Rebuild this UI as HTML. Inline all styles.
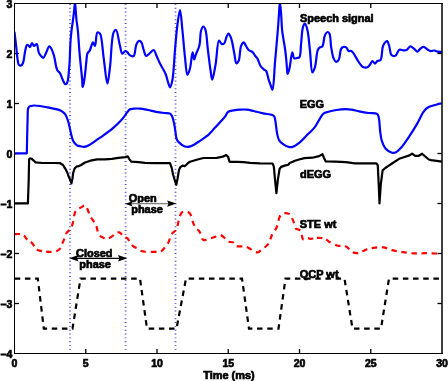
<!DOCTYPE html>
<html><head><meta charset="utf-8"><style>
html,body{margin:0;padding:0;background:#fff;}
body{width:448px;height:381px;overflow:hidden;}
svg{display:block;}
</style></head><body>
<svg width="448" height="381" viewBox="0 0 448 381">
<rect width="448" height="381" fill="#fff"/>
<line x1="85.75" y1="353.5" x2="85.75" y2="349.0" stroke="#000" stroke-width="1.3"/>
<line x1="85.75" y1="3.5" x2="85.75" y2="8.0" stroke="#000" stroke-width="1.3"/>
<line x1="157.00" y1="353.5" x2="157.00" y2="349.0" stroke="#000" stroke-width="1.3"/>
<line x1="157.00" y1="3.5" x2="157.00" y2="8.0" stroke="#000" stroke-width="1.3"/>
<line x1="228.25" y1="353.5" x2="228.25" y2="349.0" stroke="#000" stroke-width="1.3"/>
<line x1="228.25" y1="3.5" x2="228.25" y2="8.0" stroke="#000" stroke-width="1.3"/>
<line x1="299.50" y1="353.5" x2="299.50" y2="349.0" stroke="#000" stroke-width="1.3"/>
<line x1="299.50" y1="3.5" x2="299.50" y2="8.0" stroke="#000" stroke-width="1.3"/>
<line x1="370.75" y1="353.5" x2="370.75" y2="349.0" stroke="#000" stroke-width="1.3"/>
<line x1="370.75" y1="3.5" x2="370.75" y2="8.0" stroke="#000" stroke-width="1.3"/>
<line x1="14.5" y1="303.50" x2="19.0" y2="303.50" stroke="#000" stroke-width="1.3"/>
<line x1="442.0" y1="303.50" x2="437.5" y2="303.50" stroke="#000" stroke-width="1.3"/>
<line x1="14.5" y1="253.50" x2="19.0" y2="253.50" stroke="#000" stroke-width="1.3"/>
<line x1="442.0" y1="253.50" x2="437.5" y2="253.50" stroke="#000" stroke-width="1.3"/>
<line x1="14.5" y1="203.50" x2="19.0" y2="203.50" stroke="#000" stroke-width="1.3"/>
<line x1="442.0" y1="203.50" x2="437.5" y2="203.50" stroke="#000" stroke-width="1.3"/>
<line x1="14.5" y1="153.50" x2="19.0" y2="153.50" stroke="#000" stroke-width="1.3"/>
<line x1="442.0" y1="153.50" x2="437.5" y2="153.50" stroke="#000" stroke-width="1.3"/>
<line x1="14.5" y1="103.50" x2="19.0" y2="103.50" stroke="#000" stroke-width="1.3"/>
<line x1="442.0" y1="103.50" x2="437.5" y2="103.50" stroke="#000" stroke-width="1.3"/>
<line x1="14.5" y1="53.50" x2="19.0" y2="53.50" stroke="#000" stroke-width="1.3"/>
<line x1="442.0" y1="53.50" x2="437.5" y2="53.50" stroke="#000" stroke-width="1.3"/>
<defs><clipPath id="ax"><rect x="14.5" y="3.5" width="427.50" height="350.00"/></clipPath></defs>
<g clip-path="url(#ax)">
<line x1="70.0" y1="3.9" x2="70.0" y2="351.5" stroke="#2a2ad0" stroke-width="1.8" stroke-dasharray="0.9 2.934" opacity="0.85"/>
<line x1="125.6" y1="3.9" x2="125.6" y2="351.5" stroke="#2a2ad0" stroke-width="1.8" stroke-dasharray="0.9 2.934" opacity="0.85"/>
<line x1="175.5" y1="3.9" x2="175.5" y2="351.5" stroke="#2a2ad0" stroke-width="1.8" stroke-dasharray="0.9 2.934" opacity="0.85"/>
<path d="M14.50,32.00C15.00,36.33 15.46,40.38 16.00,45.00C16.62,50.29 17.26,58.67 18.00,62.00C18.32,63.43 18.39,64.44 19.00,65.00C19.49,65.45 20.39,65.71 21.00,65.50C21.76,65.24 22.44,64.23 23.00,63.00C24.04,60.71 24.25,55.24 25.00,52.00C25.61,49.39 25.99,45.45 27.00,45.00C27.56,44.75 28.47,45.62 29.00,46.00C29.42,46.30 29.65,47.06 30.00,47.00C30.62,46.90 31.29,43.04 32.00,43.00C32.63,42.96 33.20,45.86 34.00,46.00C34.77,46.13 35.98,43.74 36.70,44.00C37.87,44.42 37.87,50.44 38.80,52.60C39.43,54.06 40.16,55.10 41.00,56.00C41.72,56.77 42.67,57.96 43.40,57.80C44.39,57.58 45.10,54.74 46.00,53.00C47.05,50.96 48.26,46.47 49.30,46.30C49.89,46.20 50.44,47.15 51.00,48.00C52.03,49.58 53.09,52.70 54.00,55.70C55.22,59.70 55.69,67.08 57.20,70.00C58.01,71.56 59.21,71.84 60.00,73.10C60.94,74.61 61.46,76.90 62.20,78.60C62.86,80.11 63.53,81.81 64.20,82.80C64.63,83.43 65.03,84.12 65.50,84.20C65.91,84.27 66.44,83.93 66.80,83.50C67.36,82.82 67.59,81.49 67.90,80.00C68.42,77.54 68.70,73.34 69.00,70.00C69.30,66.67 69.52,63.33 69.70,60.00C69.88,56.67 69.95,53.33 70.10,50.00C70.25,46.67 70.35,43.33 70.60,40.00C70.85,36.66 71.20,33.33 71.60,30.00C72.00,26.66 72.57,23.34 73.00,20.00C73.43,16.67 73.85,13.10 74.20,10.00C74.50,7.32 74.75,2.50 75.00,2.50C75.25,2.50 75.47,7.32 75.70,10.00C75.97,13.09 76.15,16.67 76.50,20.00C76.85,23.34 77.45,26.66 77.80,30.00C78.15,33.33 78.35,36.67 78.60,40.00C78.85,43.33 79.03,46.67 79.30,50.00C79.57,53.33 79.88,56.67 80.20,60.00C80.52,63.33 80.87,66.67 81.20,70.00C81.53,73.33 81.96,76.96 82.20,80.00C82.40,82.54 82.25,86.95 82.60,87.00C82.84,87.03 83.28,85.35 83.60,84.00C84.22,81.35 84.83,75.92 85.30,72.00C85.75,68.26 86.00,64.34 86.40,61.00C86.74,58.20 86.70,55.13 87.50,53.30C88.04,52.07 88.98,51.81 89.70,50.60C90.84,48.67 91.97,42.46 93.00,42.40C93.70,42.36 94.41,46.10 95.00,46.00C96.07,45.82 95.85,33.18 97.40,32.40C98.11,32.04 99.25,32.67 100.00,33.70C102.16,36.66 102.40,49.30 103.60,57.40C104.86,65.91 106.23,83.59 107.40,83.60C108.33,83.61 109.15,73.55 110.00,67.00C111.23,57.57 111.36,37.10 113.60,32.40C114.30,30.93 115.27,29.80 116.00,30.00C117.57,30.43 118.63,40.70 119.80,45.00C120.69,48.27 121.07,53.24 122.30,53.60C123.12,53.84 124.35,51.07 125.30,51.00C126.07,50.94 126.79,51.78 127.50,52.40C128.37,53.16 128.95,54.80 130.00,55.40C131.03,55.99 132.74,56.65 133.70,56.00C135.36,54.88 135.09,47.69 136.20,45.00C136.92,43.26 137.71,41.32 138.70,41.00C139.45,40.76 140.50,41.24 141.20,42.00C142.44,43.34 142.81,47.54 143.70,50.00C144.49,52.16 145.03,55.70 146.20,56.00C147.21,56.26 148.75,54.00 150.00,53.00C151.24,52.00 152.69,49.78 153.70,50.00C154.79,50.24 155.30,53.10 156.20,55.00C157.36,57.47 158.68,60.97 160.00,63.60C161.16,65.92 162.55,67.98 163.60,70.00C164.51,71.75 165.30,73.16 166.00,75.00C166.80,77.11 167.29,79.84 168.00,82.00C168.63,83.90 169.32,87.31 170.00,87.30C170.79,87.28 171.72,83.31 172.40,80.00C173.74,73.44 174.13,59.54 175.00,50.00C175.80,41.29 176.42,32.26 177.40,25.00C178.16,19.35 179.21,9.98 180.00,10.00C180.91,10.02 181.63,22.80 182.40,30.00C183.30,38.41 184.06,49.28 185.00,57.40C185.75,63.92 186.24,74.86 187.40,75.00C188.13,75.09 189.25,71.20 190.00,68.50C191.14,64.38 191.77,52.43 192.60,52.40C193.15,52.38 193.59,59.47 194.20,59.50C194.74,59.53 195.27,56.09 196.00,54.10C196.93,51.57 198.57,48.90 199.40,45.60C200.47,41.35 200.04,33.85 201.10,30.50C201.68,28.66 202.55,26.53 203.30,26.50C203.98,26.47 204.80,28.01 205.40,29.60C206.80,33.32 207.05,43.15 207.90,49.90C208.75,56.62 209.66,64.51 210.50,70.00C211.08,73.82 211.49,79.68 212.20,79.70C213.10,79.72 214.56,70.09 215.60,64.40C216.88,57.34 217.22,40.97 219.00,40.50C219.75,40.30 220.61,43.51 221.60,43.90C222.36,44.20 223.40,44.08 224.10,43.50C225.26,42.55 225.67,38.77 226.50,37.00C227.12,35.68 227.71,33.71 228.40,33.70C229.19,33.69 230.22,35.95 231.00,37.90C232.43,41.47 233.43,49.46 234.40,54.10C235.13,57.60 235.25,62.98 236.30,63.30C236.92,63.49 237.95,62.26 238.60,61.00C240.03,58.24 239.79,48.71 241.20,45.60C241.92,44.00 243.00,42.35 243.80,42.40C244.61,42.45 245.23,44.77 246.00,46.00C246.82,47.30 247.50,49.01 248.60,50.00C249.63,50.93 251.22,50.98 252.30,51.90C253.49,52.92 254.36,54.80 255.30,56.00C256.07,56.98 256.80,57.44 257.50,58.60C258.57,60.38 259.27,64.11 260.50,66.00C261.43,67.43 262.65,68.42 263.70,69.30C264.55,70.01 265.50,70.02 266.20,71.00C267.42,72.70 267.89,77.29 268.70,79.80C269.32,81.71 269.87,83.14 270.50,84.80C271.14,86.47 271.92,89.88 272.50,89.80C273.80,89.61 274.14,71.97 275.00,62.30C275.96,51.50 277.32,36.72 278.00,28.00C278.42,22.64 278.58,19.33 278.90,15.00C279.22,10.67 279.52,2.00 279.90,2.00C280.28,2.00 280.84,10.51 281.20,15.00C281.59,19.82 281.63,25.51 282.10,30.00C282.49,33.68 283.08,36.67 283.60,40.00C284.12,43.33 284.75,46.66 285.20,50.00C285.65,53.33 285.98,56.66 286.30,60.00C286.62,63.33 286.87,67.42 287.10,70.00C287.25,71.63 287.19,73.96 287.50,74.00C287.88,74.05 288.79,70.91 289.40,68.60C290.43,64.68 291.30,52.47 292.30,52.40C292.92,52.36 293.12,57.73 294.20,58.40C294.91,58.84 296.03,58.20 296.90,58.00C297.76,57.80 298.74,57.99 299.40,57.20C300.90,55.40 300.54,48.33 301.10,43.60C301.71,38.44 301.83,30.83 302.90,27.40C303.44,25.66 304.24,23.66 304.90,23.70C305.74,23.75 306.70,27.25 307.40,30.00C308.62,34.74 309.09,43.15 309.90,50.00C310.76,57.23 311.01,72.05 312.40,72.30C313.09,72.42 314.17,69.54 314.90,67.30C316.19,63.33 316.43,53.14 317.80,50.00C318.39,48.64 319.00,47.99 319.80,47.40C320.52,46.87 321.60,47.29 322.30,46.50C323.78,44.84 323.75,37.50 325.00,35.00C325.72,33.56 326.68,32.07 327.50,32.00C328.17,31.94 328.96,32.70 329.50,33.70C330.74,35.99 330.45,43.08 331.20,47.40C331.88,51.34 332.51,56.08 333.70,58.60C334.41,60.10 335.31,61.68 336.20,61.80C336.99,61.90 338.00,60.99 338.70,59.90C340.04,57.81 339.84,50.61 341.20,48.60C341.90,47.57 342.83,47.08 343.70,46.90C344.50,46.74 345.45,46.91 346.20,47.40C347.18,48.04 347.71,50.48 348.70,51.00C349.45,51.39 350.43,50.67 351.20,51.00C352.12,51.39 352.85,52.48 353.70,53.60C354.91,55.19 356.13,57.90 357.40,59.90C358.60,61.79 359.89,64.00 361.10,65.30C361.95,66.21 362.61,66.95 363.60,67.30C364.68,67.68 366.34,67.74 367.40,67.30C368.42,66.88 369.11,65.77 369.90,64.80C370.79,63.70 371.51,61.08 372.40,61.00C373.19,60.93 374.07,63.60 374.90,63.60C375.73,63.60 376.44,61.60 377.40,61.00C378.32,60.43 379.67,60.95 380.50,60.00C382.23,58.02 381.78,49.17 383.00,46.00C383.70,44.17 384.63,42.81 385.50,42.00C386.05,41.49 386.70,40.92 387.20,41.10C388.04,41.40 388.57,44.10 389.20,46.00C390.03,48.52 390.00,53.57 391.50,55.00C392.48,55.94 394.24,56.28 395.40,55.80C396.95,55.15 397.73,50.53 399.30,49.80C400.48,49.25 402.05,50.26 403.30,50.30C404.40,50.33 405.39,50.54 406.40,50.10C407.73,49.52 408.94,46.54 410.30,46.40C411.55,46.27 413.01,47.91 414.20,48.80C415.34,49.65 416.27,51.62 417.30,51.60C418.37,51.58 419.38,49.30 420.50,48.50C421.49,47.79 422.53,46.84 423.60,46.90C424.85,46.97 426.25,48.77 427.50,49.50C428.57,50.13 429.48,50.92 430.60,51.10C431.80,51.30 433.29,50.37 434.50,50.50C435.61,50.62 436.45,51.46 437.60,51.70C438.92,51.98 440.53,51.83 442.00,51.90" fill="none" stroke="#0000ff" stroke-width="2.2" stroke-linejoin="round"/>
<path d="M14.50,153.30L26.80,153.30C27.07,142.20 27.29,128.24 27.60,120.00C27.78,115.14 27.46,110.58 28.20,108.40C28.53,107.43 29.01,106.90 29.50,106.50C29.87,106.20 30.18,106.14 30.70,106.00C31.58,105.76 32.76,105.49 34.40,105.50C37.66,105.52 44.36,106.75 49.00,107.70C53.33,108.58 59.05,109.76 61.40,110.90C62.47,111.42 62.84,111.88 63.50,112.50C64.21,113.17 64.87,113.76 65.50,114.80C66.48,116.39 67.39,118.93 68.20,121.50C69.24,124.78 70.02,129.58 70.90,133.00C71.61,135.77 72.14,138.59 73.00,140.50C73.59,141.81 74.23,142.76 75.00,143.60C75.68,144.35 76.42,144.95 77.30,145.40C78.24,145.88 79.40,146.05 80.50,146.30C81.63,146.56 82.72,147.01 84.00,146.90C85.62,146.76 87.57,145.94 89.40,145.00C91.59,143.87 93.76,141.92 96.10,140.30C98.64,138.53 101.45,136.70 104.10,134.80C106.79,132.87 109.59,130.86 112.10,128.80C114.48,126.85 116.74,124.87 118.80,122.80C120.76,120.83 122.76,118.56 124.20,116.70C125.31,115.27 125.97,113.94 126.90,112.70C127.77,111.55 128.47,110.17 129.60,109.50C130.71,108.84 132.10,108.86 133.60,108.70C135.48,108.50 137.76,108.42 140.00,108.60C142.53,108.80 145.33,109.47 148.00,110.00C150.70,110.54 153.40,111.30 156.10,111.80C158.77,112.30 161.62,112.69 164.10,113.00C166.24,113.27 168.73,112.82 170.10,113.60C171.12,114.18 171.52,115.12 172.10,116.30C172.96,118.05 173.55,120.90 174.10,123.40C174.70,126.14 175.03,129.32 175.50,132.10C175.93,134.67 175.94,137.59 176.80,139.50C177.45,140.95 178.39,141.85 179.50,142.90C180.78,144.11 182.62,145.55 184.20,146.20C185.53,146.75 186.79,147.03 188.20,146.90C189.88,146.75 191.77,145.81 193.60,144.90C195.70,143.85 197.85,142.22 200.00,140.80C202.22,139.33 204.46,138.08 206.70,136.20C209.35,133.98 212.17,130.75 214.70,128.10C217.06,125.63 219.47,122.98 221.40,120.80C222.92,119.08 224.25,117.67 225.40,116.10C226.45,114.67 226.80,112.75 228.10,111.80C229.46,110.80 231.59,110.76 233.50,110.40C235.60,110.00 237.96,109.73 240.20,109.60C242.43,109.47 244.68,109.37 246.90,109.60C249.15,109.83 251.18,110.44 253.60,111.00C256.48,111.67 259.85,112.73 263.00,113.40C266.12,114.06 270.49,114.11 272.40,115.00C273.40,115.47 273.88,115.80 274.40,116.70C275.28,118.22 275.37,121.48 275.80,124.10C276.28,127.04 276.48,130.65 277.10,133.50C277.63,135.94 278.00,138.36 279.10,140.20C280.09,141.85 281.57,143.09 283.10,144.20C284.69,145.34 286.79,146.50 288.50,146.90C289.89,147.23 291.06,147.30 292.50,146.90C294.52,146.34 297.06,144.56 299.20,142.90C301.55,141.07 303.51,138.63 305.90,136.20C308.71,133.34 312.70,129.80 315.00,126.80C316.77,124.49 317.57,122.31 319.00,120.10C320.46,117.84 321.88,114.76 323.70,113.40C325.11,112.34 326.61,112.30 328.40,111.80C330.70,111.15 333.61,110.45 336.40,110.00C339.39,109.52 343.10,109.10 345.80,109.10C347.85,109.10 349.23,109.29 351.20,109.60C353.62,109.98 356.42,110.85 359.20,111.40C362.20,111.99 365.54,112.58 368.60,113.00C371.50,113.40 375.49,112.75 377.10,113.90C378.17,114.66 378.26,115.73 378.70,117.30C379.56,120.37 379.62,127.26 380.20,131.50C380.68,134.96 380.85,137.97 381.80,140.90C382.71,143.72 383.89,146.78 385.70,148.80C387.37,150.66 390.06,152.37 392.00,152.80C393.42,153.12 394.66,152.92 396.00,152.30C397.82,151.45 399.61,149.34 401.50,147.20C404.04,144.33 406.84,140.04 409.40,136.20C412.08,132.19 414.80,127.77 417.20,123.60C419.48,119.64 421.38,114.65 423.50,111.80C424.93,109.88 426.02,108.61 427.80,107.50C429.80,106.25 432.71,105.73 435.10,105.00C437.37,104.31 439.57,103.80 441.80,103.20" fill="none" stroke="#0000ff" stroke-width="2.2" stroke-linejoin="round"/>
<polyline points="14.5,203.4 27.9,203.4 28.7,180.0 29.1,159.4 29.9,158.3 31.5,158.7 33.4,160.3 35.6,162.4 42.3,163.0 53.5,163.0 60.2,163.2 63.0,165.0 65.2,168.6 67.3,172.5 68.8,176.8 70.2,179.7 71.4,183.4 72.4,179.0 73.1,173.2 74.6,168.6 76.7,166.4 78.9,166.1 81.1,165.0 85.0,162.5 90.4,160.7 97.1,159.4 105.1,159.4 111.8,158.8 118.5,157.8 125.2,157.1 127.7,156.4 129.2,158.9 131.2,161.7 138.6,162.2 145.0,162.9 154.1,163.2 170.0,163.2 171.7,167.9 173.1,174.7 175.3,181.9 176.3,184.8 177.5,179.0 178.9,170.3 180.3,167.1 182.5,165.7 184.7,166.1 186.1,165.0 188.3,162.8 190.0,161.8 196.7,159.8 203.4,158.0 210.1,158.0 216.8,157.8 222.8,156.7 226.2,155.0 228.2,157.1 229.5,161.8 236.9,161.8 243.6,162.2 250.0,162.9 260.0,163.3 272.5,163.5 273.8,166.4 275.0,179.4 276.4,193.2 277.9,179.4 279.6,169.0 281.1,166.9 284.7,165.6 288.3,164.7 289.7,162.9 293.4,161.4 295.0,160.8 299.0,159.5 304.4,158.1 312.4,157.7 319.1,156.1 322.5,154.2 323.8,157.5 325.8,161.5 335.2,161.7 345.9,162.1 355.0,163.4 376.5,163.4 377.8,165.4 378.7,184.3 379.5,203.4 380.8,184.3 382.6,170.3 385.3,168.0 388.1,166.1 393.6,162.5 399.1,158.8 405.3,156.7 409.5,155.4 412.1,153.7 415.2,155.8 418.8,155.8 422.1,153.7 425.5,156.7 428.8,159.5 431.1,160.1 442.0,161.7" fill="none" stroke="#000" stroke-width="2.2" stroke-linejoin="round"/>
<path d="M14.50,234.10C16.13,234.10 17.81,233.83 19.40,234.10C20.98,234.37 22.77,234.82 24.00,235.70C25.17,236.53 25.59,238.05 26.70,239.10C27.98,240.31 30.12,241.19 31.40,242.40C32.51,243.45 33.15,244.63 34.10,245.80C35.14,247.08 36.04,248.92 37.40,249.80C38.72,250.66 40.47,250.77 42.10,251.10C43.83,251.45 45.83,251.69 47.50,251.80C48.93,251.89 50.07,251.89 51.50,251.80C53.17,251.69 55.40,251.75 56.90,251.10C58.23,250.53 59.33,249.55 60.20,248.40C61.14,247.16 61.54,245.34 62.20,243.80C62.87,242.24 63.56,240.75 64.20,239.10C64.89,237.32 65.29,234.99 66.20,233.50C66.94,232.28 68.07,231.35 68.90,230.60C69.51,230.05 70.15,229.90 70.60,229.30C71.13,228.59 71.33,227.55 71.70,226.50C72.16,225.18 72.69,223.71 73.10,222.00C73.62,219.83 73.83,216.51 74.40,214.50C74.80,213.09 75.11,211.98 75.80,211.00C76.46,210.06 77.48,209.31 78.40,208.70C79.25,208.13 80.16,207.90 81.10,207.40C82.18,206.82 83.57,205.43 84.50,205.40C85.13,205.38 85.63,205.71 86.10,206.20C86.82,206.95 87.18,208.55 87.80,210.00C88.61,211.91 89.42,214.72 90.50,216.70C91.46,218.47 92.80,219.77 93.80,221.40C94.80,223.04 95.82,224.73 96.50,226.50C97.18,228.26 97.19,230.34 97.90,232.00C98.56,233.55 99.54,235.29 100.50,236.20C101.19,236.85 101.93,236.99 102.70,237.40C103.55,237.85 104.57,238.60 105.40,238.80C106.04,238.96 106.48,238.97 107.20,238.80C108.46,238.51 110.61,237.38 112.10,236.40C113.57,235.44 114.74,233.64 116.10,233.00C117.18,232.49 118.48,232.15 119.40,232.40C120.21,232.62 120.71,233.43 121.40,234.10C122.26,234.94 123.05,236.38 124.10,237.10C125.10,237.78 126.54,237.63 127.50,238.40C128.60,239.29 129.13,241.10 130.10,242.40C131.12,243.77 132.20,245.38 133.50,246.40C134.70,247.34 136.19,247.64 137.50,248.40C138.86,249.19 140.10,250.54 141.50,251.10C142.78,251.62 143.93,251.66 145.50,251.80C147.72,251.99 151.17,251.80 153.60,251.80C155.58,251.80 157.59,251.98 159.00,251.80C159.94,251.68 160.56,251.62 161.30,251.20C162.24,250.66 163.05,249.59 164.00,248.50C165.25,247.06 166.97,244.98 168.00,243.20C168.90,241.64 169.33,240.07 170.00,238.50C170.67,236.93 171.18,234.98 172.00,233.80C172.62,232.91 173.41,232.47 174.10,231.80C174.78,231.14 175.57,230.62 176.10,229.80C176.70,228.87 177.01,227.71 177.40,226.40C177.91,224.70 178.22,222.27 178.70,220.40C179.13,218.73 179.58,217.03 180.10,215.70C180.50,214.66 180.80,213.68 181.40,213.00C181.93,212.39 182.60,211.94 183.40,211.70C184.35,211.42 185.72,211.40 186.80,211.70C187.96,212.02 189.25,212.64 190.10,213.70C191.18,215.06 191.42,217.76 192.10,219.70C192.75,221.55 193.37,223.46 194.10,225.10C194.75,226.56 195.29,228.21 196.20,229.10C196.93,229.82 198.08,229.67 198.80,230.40C199.70,231.31 200.18,233.07 200.80,234.50C201.45,236.00 201.83,238.27 202.60,239.20C203.07,239.77 203.57,240.12 204.20,240.20C204.98,240.30 206.07,239.57 207.00,239.30C207.90,239.04 208.61,238.92 209.70,238.60C211.44,238.09 214.46,237.06 216.40,236.40C217.91,235.89 219.06,234.81 220.40,235.00C221.96,235.23 223.71,237.22 225.10,238.40C226.34,239.46 227.07,241.03 228.40,241.70C229.74,242.37 231.97,241.64 233.10,242.40C234.13,243.09 234.00,245.10 235.10,245.80C236.47,246.67 239.38,246.31 241.20,246.40C242.67,246.47 243.81,246.07 245.20,246.40C246.89,246.81 248.87,248.15 250.50,249.10C251.98,249.96 253.22,251.30 254.60,251.80C255.79,252.23 257.09,252.52 258.20,252.20C259.40,251.86 260.42,250.39 261.50,249.60C262.49,248.87 263.39,248.42 264.40,247.60C265.66,246.57 267.39,245.25 268.40,243.80C269.37,242.40 269.75,240.72 270.40,239.10C271.08,237.39 271.51,235.46 272.40,233.80C273.30,232.12 274.90,230.79 275.80,229.10C276.70,227.42 277.25,225.51 277.80,223.70C278.34,221.94 278.51,220.01 279.10,218.40C279.64,216.94 280.19,215.25 281.10,214.40C281.84,213.72 282.84,213.49 283.80,213.30C284.83,213.10 286.04,213.11 287.10,213.30C288.14,213.48 289.33,213.72 290.10,214.40C290.93,215.13 291.23,216.49 291.80,217.70C292.47,219.12 293.17,220.72 293.80,222.40C294.51,224.26 294.75,227.24 295.80,228.40C296.52,229.19 297.64,229.19 298.50,229.60C299.30,229.99 300.23,230.07 300.80,230.80C301.61,231.85 301.63,234.49 302.00,236.00C302.29,237.17 302.19,238.48 302.80,239.10C303.34,239.65 304.42,239.91 305.20,239.80C306.05,239.68 306.82,238.36 307.70,238.20C308.55,238.05 309.32,238.75 310.40,238.80C312.00,238.87 314.52,238.12 316.40,238.00C318.06,237.89 319.54,237.82 321.10,238.00C322.68,238.18 324.43,238.44 325.80,239.10C327.07,239.71 327.82,240.89 329.10,241.70C330.64,242.68 332.81,243.69 334.50,244.40C335.91,245.00 337.01,245.55 338.50,245.80C340.28,246.10 342.83,245.35 344.50,245.80C345.85,246.17 346.78,246.93 347.90,247.80C349.25,248.84 350.38,250.92 351.90,251.80C353.31,252.62 355.03,252.99 356.60,253.10C358.13,253.21 360.12,252.93 361.20,252.50C361.88,252.23 362.06,251.79 362.70,251.40C363.69,250.79 365.16,249.96 366.70,249.40C368.61,248.70 370.93,248.14 373.40,247.80C376.38,247.39 380.22,246.98 383.40,247.40C386.44,247.80 389.02,249.34 392.10,250.10C395.48,250.93 399.30,251.55 402.90,252.10C406.47,252.65 409.89,253.21 413.60,253.40C417.57,253.61 422.19,253.17 426.00,253.20C429.27,253.23 432.30,253.39 435.10,253.50C437.50,253.59 439.57,253.70 441.80,253.80" pathLength="589.41" fill="none" stroke="#ff0000" stroke-width="2.2" stroke-dasharray="5.50 4.08 5.50 4.13 5.50 4.13 5.50 4.13 5.50 4.67 5.50 4.67 5.50 4.67 5.50 4.67 5.50 4.67 5.50 4.67 5.50 4.67 5.50 4.67 5.50 4.67 5.50 4.67 5.50 4.67 5.50 4.67 5.50 4.67 5.50 4.67 5.50 4.81 5.50 5.02 5.50 4.76 5.50 4.80 5.50 4.80 5.50 4.80 5.50 4.80 5.50 4.80 5.50 4.80 5.50 4.80 5.50 4.80 5.50 4.80 5.50 4.80 5.50 4.80 5.50 4.80 5.50 4.80 5.50 4.80 5.50 4.80 5.50 4.80 5.50 4.80 5.50 4.80 5.50 4.80 5.50 4.80 5.50 4.80 5.50 4.80 5.50 4.80 5.50 3.56 5.50 4.07 5.50 4.97 5.50 4.61 5.50 4.61 5.50 4.61 5.50 4.61 5.50 4.61 5.50 4.61 5.50 4.61 5.50 4.70 5.50 4.51 5.50 4.60 5.50 4.60 5.50 4.60"/>
<polyline points="14.5,278.6 37.8,278.6 43.8,328.6 72.5,328.6 80.5,278.6 140.0,278.6 147.0,328.6 176.5,328.6 186.0,278.6 242.0,278.6 249.0,328.6 278.5,328.6 285.5,278.6 344.5,278.6 352.5,328.6 381.0,328.6 389.0,278.6 441.8,278.6" fill="none" stroke="#000" stroke-width="2.2" stroke-dasharray="5.5 4.67" stroke-dashoffset="-0.26"/>
</g>
<line x1="14.5" y1="3.0" x2="14.5" y2="354.0" stroke="#000" stroke-width="1"/>
<line x1="14.0" y1="3.5" x2="442.75" y2="3.5" stroke="#000" stroke-width="1"/>
<line x1="14.0" y1="353.5" x2="442.75" y2="353.5" stroke="#000" stroke-width="1.05"/>
<line x1="442.0" y1="3.0" x2="442.0" y2="354.0" stroke="#000" stroke-width="1.5"/>
<text transform="translate(14.50,366.60) scale(1,1)" font-family="Liberation Sans, Arial, sans-serif" font-weight="bold" stroke="#000" stroke-width="0.65" font-size="10.50" text-anchor="middle">0</text>
<text transform="translate(85.75,366.60) scale(1,1)" font-family="Liberation Sans, Arial, sans-serif" font-weight="bold" stroke="#000" stroke-width="0.65" font-size="10.50" text-anchor="middle">5</text>
<text transform="translate(157.00,366.60) scale(1,1)" font-family="Liberation Sans, Arial, sans-serif" font-weight="bold" stroke="#000" stroke-width="0.65" font-size="10.50" text-anchor="middle">10</text>
<text transform="translate(228.25,366.60) scale(1,1)" font-family="Liberation Sans, Arial, sans-serif" font-weight="bold" stroke="#000" stroke-width="0.65" font-size="10.50" text-anchor="middle">15</text>
<text transform="translate(299.50,366.60) scale(1,1)" font-family="Liberation Sans, Arial, sans-serif" font-weight="bold" stroke="#000" stroke-width="0.65" font-size="10.50" text-anchor="middle">20</text>
<text transform="translate(370.75,366.60) scale(1,1)" font-family="Liberation Sans, Arial, sans-serif" font-weight="bold" stroke="#000" stroke-width="0.65" font-size="10.50" text-anchor="middle">25</text>
<text transform="translate(442.00,366.60) scale(1,1)" font-family="Liberation Sans, Arial, sans-serif" font-weight="bold" stroke="#000" stroke-width="0.65" font-size="10.50" text-anchor="middle">30</text>
<text transform="translate(12.30,358.00) scale(1,1)" font-family="Liberation Sans, Arial, sans-serif" font-weight="bold" stroke="#000" stroke-width="0.65" font-size="10.50" text-anchor="end">−4</text>
<text transform="translate(12.30,308.00) scale(1,1)" font-family="Liberation Sans, Arial, sans-serif" font-weight="bold" stroke="#000" stroke-width="0.65" font-size="10.50" text-anchor="end">−3</text>
<text transform="translate(12.30,258.00) scale(1,1)" font-family="Liberation Sans, Arial, sans-serif" font-weight="bold" stroke="#000" stroke-width="0.65" font-size="10.50" text-anchor="end">−2</text>
<text transform="translate(12.30,208.00) scale(1,1)" font-family="Liberation Sans, Arial, sans-serif" font-weight="bold" stroke="#000" stroke-width="0.65" font-size="10.50" text-anchor="end">−1</text>
<text transform="translate(12.30,158.00) scale(1,1)" font-family="Liberation Sans, Arial, sans-serif" font-weight="bold" stroke="#000" stroke-width="0.65" font-size="10.50" text-anchor="end">0</text>
<text transform="translate(12.30,108.00) scale(1,1)" font-family="Liberation Sans, Arial, sans-serif" font-weight="bold" stroke="#000" stroke-width="0.65" font-size="10.50" text-anchor="end">1</text>
<text transform="translate(12.30,58.00) scale(1,1)" font-family="Liberation Sans, Arial, sans-serif" font-weight="bold" stroke="#000" stroke-width="0.65" font-size="10.50" text-anchor="end">2</text>
<text transform="translate(12.30,8.00) scale(1,1)" font-family="Liberation Sans, Arial, sans-serif" font-weight="bold" stroke="#000" stroke-width="0.65" font-size="10.50" text-anchor="end">3</text>
<text transform="translate(228.90,378.60) scale(1.06,1)" font-family="Liberation Sans, Arial, sans-serif" font-weight="bold" stroke="#000" stroke-width="0.65" font-size="10.34" text-anchor="middle">Time (ms)</text>
<text transform="translate(300.00,22.40) scale(1.06,1)" font-family="Liberation Sans, Arial, sans-serif" font-weight="bold" stroke="#000" stroke-width="0.65" font-size="10.34">Speech signal</text>
<text transform="translate(299.70,107.50) scale(1.06,1)" font-family="Liberation Sans, Arial, sans-serif" font-weight="bold" stroke="#000" stroke-width="0.65" font-size="10.34">EGG</text>
<text transform="translate(300.00,177.70) scale(1.06,1)" font-family="Liberation Sans, Arial, sans-serif" font-weight="bold" stroke="#000" stroke-width="0.65" font-size="10.34">dEGG</text>
<text transform="translate(299.80,227.50) scale(1.06,1)" font-family="Liberation Sans, Arial, sans-serif" font-weight="bold" stroke="#000" stroke-width="0.65" font-size="10.34">STE wt</text>
<text transform="translate(299.80,277.70) scale(1.06,1)" font-family="Liberation Sans, Arial, sans-serif" font-weight="bold" stroke="#000" stroke-width="0.65" font-size="10.34">QCP wt</text>
<text transform="translate(128.80,202.40) scale(1.06,1)" font-family="Liberation Sans, Arial, sans-serif" font-weight="bold" stroke="#000" stroke-width="0.65" font-size="10.34">Open</text>
<text transform="translate(131.20,213.00) scale(1.06,1)" font-family="Liberation Sans, Arial, sans-serif" font-weight="bold" stroke="#000" stroke-width="0.65" font-size="10.34">phase</text>
<text transform="translate(76.00,257.30) scale(1.06,1)" font-family="Liberation Sans, Arial, sans-serif" font-weight="bold" stroke="#000" stroke-width="0.65" font-size="10.34">Closed</text>
<text transform="translate(79.30,268.30) scale(1.06,1)" font-family="Liberation Sans, Arial, sans-serif" font-weight="bold" stroke="#000" stroke-width="0.65" font-size="10.34">phase</text>
<line x1="127" y1="203.6" x2="170" y2="203.6" stroke="#808080" stroke-width="1.2"/>
<polygon points="176.5,203.6 167.10,200.40 168.50,203.6 167.10,206.80" fill="#000"/>
<polygon points="125.0,203.8 132.70,201.20 131.30,203.8 132.70,206.40" fill="#000"/>
<line x1="72" y1="258.3" x2="121" y2="258.3" stroke="#000" stroke-width="1.3"/>
<polygon points="127.4,258.3 118.00,255.10 119.40,258.3 118.00,261.50" fill="#000"/>
<polygon points="69.1,258.3 78.50,255.10 77.10,258.3 78.50,261.50" fill="#000"/>
</svg>
</body></html>
